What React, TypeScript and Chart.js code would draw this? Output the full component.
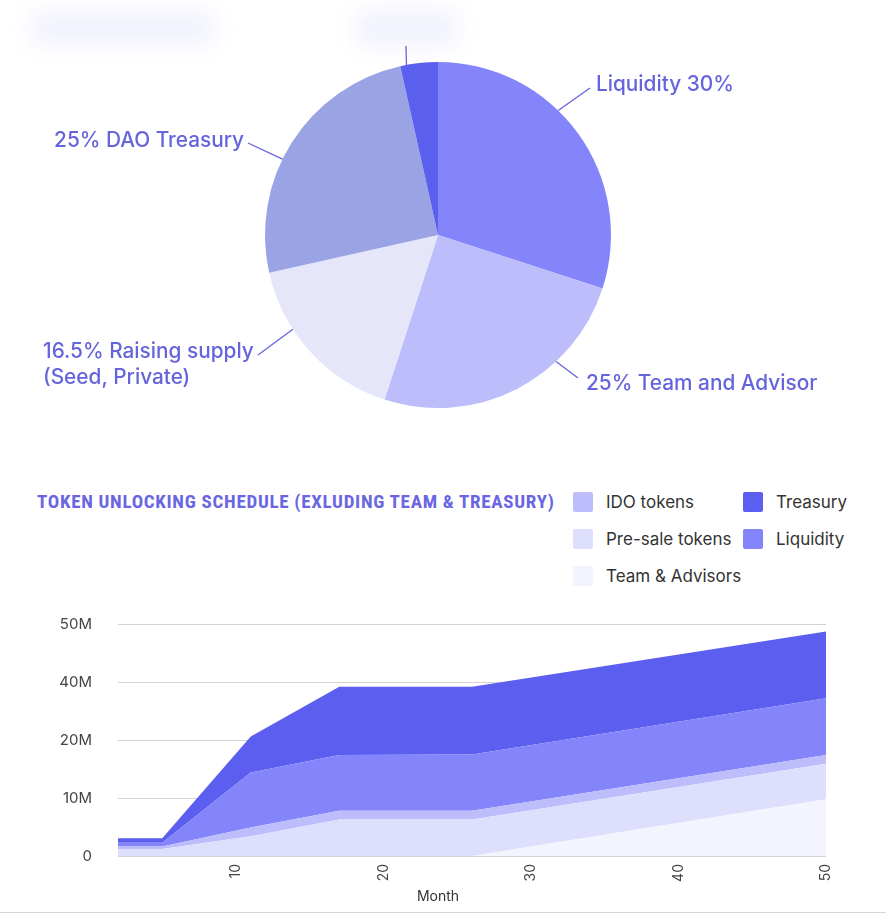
import React, { useEffect, useRef } from "react";
import { Chart, registerables } from "chart.js";

Chart.register(...registerables);

// Token allocation, percent of total supply
const allocationNames = ["Liquidity", "Team and Advisor", "Raising supply (Seed, Private)", "DAO Treasury", "IDO"];
const allocationShares = [30, 25, 16.5, 25, 3.5];
const allocationColors = ["#8585fb", "#bdbdfc", "#e6e6fb", "#9aa3e4", "#5b5fee"];

// Unlocking schedule (values in millions of tokens)
const months = [2, 5, 11, 17, 26, 50];
const teamAdvisors = [0, 0, 0, 0, 0, 9.8];
const presaleTokens = [1.2, 1.2, 3.4, 6.3, 6.3, 6.1];
const idoTokens = [0.45, 0.45, 1.5, 1.5, 1.5, 1.5];
const liquidity = [0.65, 0.65, 9.5, 9.6, 9.7, 9.8];
const treasury = [0.75, 0.75, 6.2, 11.8, 11.7, 11.5];

const monthTicks = [10, 20, 30, 40, 50];
const valueTickLabels = ["0", "10M", "20M", "40M", "50M"];

const seriesNames = ["Team & Advisors", "Pre-sale tokens", "IDO tokens", "Liquidity", "Treasury"];
const seriesValues = [teamAdvisors, presaleTokens, idoTokens, liquidity, treasury];
const seriesColors = ["#f4f4fe", "#dedefd", "#bdbdfb", "#8585fb", "#5b5eee"];
// legend reading order: two columns, row by row
const legendOrder = [2, 4, 1, 3, 0];

const LABEL_FONT = '500 20.8px Inter, "Noto Sans", sans-serif';
const LABEL_COLOR = "#6664dc";

// callouts around the pie: leader leaves the rim at `angle` (deg, clockwise from 12 o'clock)
const pieCallouts = [
  { angle: 44, end: [590, 88], lines: ["Liquidity 30%"], x: 596, y: 85, align: "left" },
  { angle: 137, end: [578, 378], lines: ["25% Team and Advisor"], x: 586, y: 384, align: "left" },
  { angle: 237, end: [258, 355], lines: ["16.5% Raising supply", "(Seed, Private)"], x: 43, y: 352, align: "left" },
  { angle: 296, end: [248, 143], lines: ["25% DAO Treasury"], x: 244, y: 141, align: "right" },
  { angle: 349.5, end: [406, 46], lines: [], x: 0, y: 0, align: "left" },
];

const calloutPlugin = {
  id: "pieCallouts",
  afterDraw(chart: any) {
    const arc = chart.getDatasetMeta(0).data[0];
    if (!arc) return;
    const { x: cx, y: cy, outerRadius: r } = arc;
    const ctx = chart.ctx;
    ctx.save();
    ctx.strokeStyle = LABEL_COLOR;
    ctx.lineWidth = 1.3;
    ctx.fillStyle = LABEL_COLOR;
    ctx.font = LABEL_FONT;
    ctx.textBaseline = "middle";
    for (const c of pieCallouts) {
      const a = (c.angle * Math.PI) / 180;
      const sx = cx + r * Math.sin(a);
      const sy = cy - r * Math.cos(a);
      ctx.beginPath();
      ctx.moveTo(sx, sy);
      ctx.lineTo(c.end[0], c.end[1]);
      ctx.stroke();
      ctx.textAlign = c.align;
      c.lines.forEach((t, i) => ctx.fillText(t, c.x, c.y + i * 26));
    }
    ctx.restore();
  },
};

const monthTitlePlugin = {
  id: "monthTitle",
  afterDraw(chart: any) {
    const ctx = chart.ctx;
    ctx.save();
    ctx.font = '14px Inter, "Noto Sans", sans-serif';
    ctx.fillStyle = "#333";
    ctx.textAlign = "center";
    ctx.textBaseline = "middle";
    ctx.fillText("Month", chart.width / 2, chart.chartArea.bottom + 41);
    ctx.restore();
  },
};

export default function App() {
  const pieRef = useRef<HTMLCanvasElement>(null);
  const areaRef = useRef<HTMLCanvasElement>(null);

  useEffect(() => {
    const pie = new Chart(pieRef.current!, {
      type: "pie",
      data: {
        labels: allocationNames,
        datasets: [
          {
            data: allocationShares,
            backgroundColor: allocationColors,
            borderWidth: 0,
          },
        ],
      },
      options: {
        responsive: false,
        animation: false,
        events: [],
        layout: { padding: { left: 265, right: 275, top: 62, bottom: 32 } },
        plugins: { legend: { display: false }, tooltip: { enabled: false } },
      },
      plugins: [calloutPlugin],
    } as any);

    const tickFont = { family: 'Inter, "Noto Sans", sans-serif', size: 14 };
    const area = new Chart(areaRef.current!, {
      type: "line",
      data: {
        datasets: seriesNames.map((name, i) => ({
          label: name,
          data: months.map((m, j) => ({ x: m, y: seriesValues[i][j] })),
          backgroundColor: seriesColors[i],
          borderColor: seriesColors[i],
          borderWidth: 0,
          pointRadius: 0,
          tension: 0,
          fill: i === 0 ? "origin" : "-1",
        })),
      },
      options: {
        responsive: false,
        animation: false,
        events: [],
        layout: { padding: { top: 0, right: 50, left: 0, bottom: 0 } },
        plugins: { legend: { display: false }, tooltip: { enabled: false } },
        scales: {
          x: {
            type: "linear",
            min: 2,
            max: 50,
            grid: { display: false, drawTicks: false },
            border: { display: false },
            afterBuildTicks: (s: any) => {
              s.ticks = monthTicks.map((v) => ({ value: v }));
            },
            afterFit: (s: any) => {
              s.height = 60;
            },
            ticks: {
              minRotation: 90,
              maxRotation: 90,
              padding: 8,
              font: tickFont,
              color: "#444",
            },
          },
          y: {
            stacked: true,
            min: 0,
            max: 40,
            grid: { color: "#d4d4d4", drawTicks: false },
            border: { display: false },
            afterFit: (s: any) => {
              s.width = 118;
            },
            ticks: {
              stepSize: 10,
              padding: 26,
              font: { ...tickFont, size: 15 },
              color: "#444",
              callback: (_v: any, i: number) => valueTickLabels[i],
            },
          },
        },
      },
      plugins: [monthTitlePlugin],
    } as any);

    return () => {
      pie.destroy();
      area.destroy();
    };
  }, []);

  const blob = (left: number, top: number, w: number, h: number): React.CSSProperties => ({
    position: "absolute",
    left,
    top,
    width: w,
    height: h,
    borderRadius: h / 2,
    background: "rgba(228,228,252,0.45)",
    filter: "blur(10px)",
  });

  return (
    <div
      style={{
        position: "absolute",
        left: 0,
        top: 0,
        width: 886,
        height: 916,
        background: "#fff",
        overflow: "hidden",
        fontFamily: 'Inter, "Noto Sans", sans-serif',
      }}
    >
      <div style={blob(28, 10, 190, 36)} />
      <div style={blob(352, 8, 108, 40)} />
      <canvas
        ref={pieRef}
        width={886}
        height={440}
        style={{ position: "absolute", left: 0, top: 0, width: 886, height: 440 }}
      />
      <div
        style={{
          position: "absolute",
          left: 37,
          top: 490,
          height: 24,
          lineHeight: "24px",
          whiteSpace: "nowrap",
          fontFamily: '"Roboto Condensed", "Liberation Sans Narrow", Roboto, sans-serif',
          fontWeight: 700,
          fontSize: 19,
          letterSpacing: 0.7,
          color: "#6a66e3",
        }}
      >
        TOKEN UNLOCKING SCHEDULE (EXLUDING TEAM &amp; TREASURY)
      </div>
      <div
        style={{
          position: "absolute",
          left: 573,
          top: 483,
          display: "grid",
          gridTemplateColumns: "170px auto",
          gridAutoRows: "37px",
        }}
      >
        {legendOrder.map((k) => (
          <div key={k} style={{ display: "flex", alignItems: "center", whiteSpace: "nowrap" }}>
            <span
              style={{
                display: "inline-block",
                width: 20,
                height: 20,
                borderRadius: 2,
                background: seriesColors[k],
                marginRight: 13,
              }}
            />
            <span style={{ fontSize: 17, color: "#333" }}>{seriesNames[k]}</span>
          </div>
        ))}
      </div>
      <canvas
        ref={areaRef}
        width={876}
        height={327}
        style={{ position: "absolute", left: 0, top: 589, width: 876, height: 327 }}
      />
      <div style={{ position: "absolute", left: 0, top: 912, width: 886, height: 1, background: "#d6d6d6" }} />
    </div>
  );
}
